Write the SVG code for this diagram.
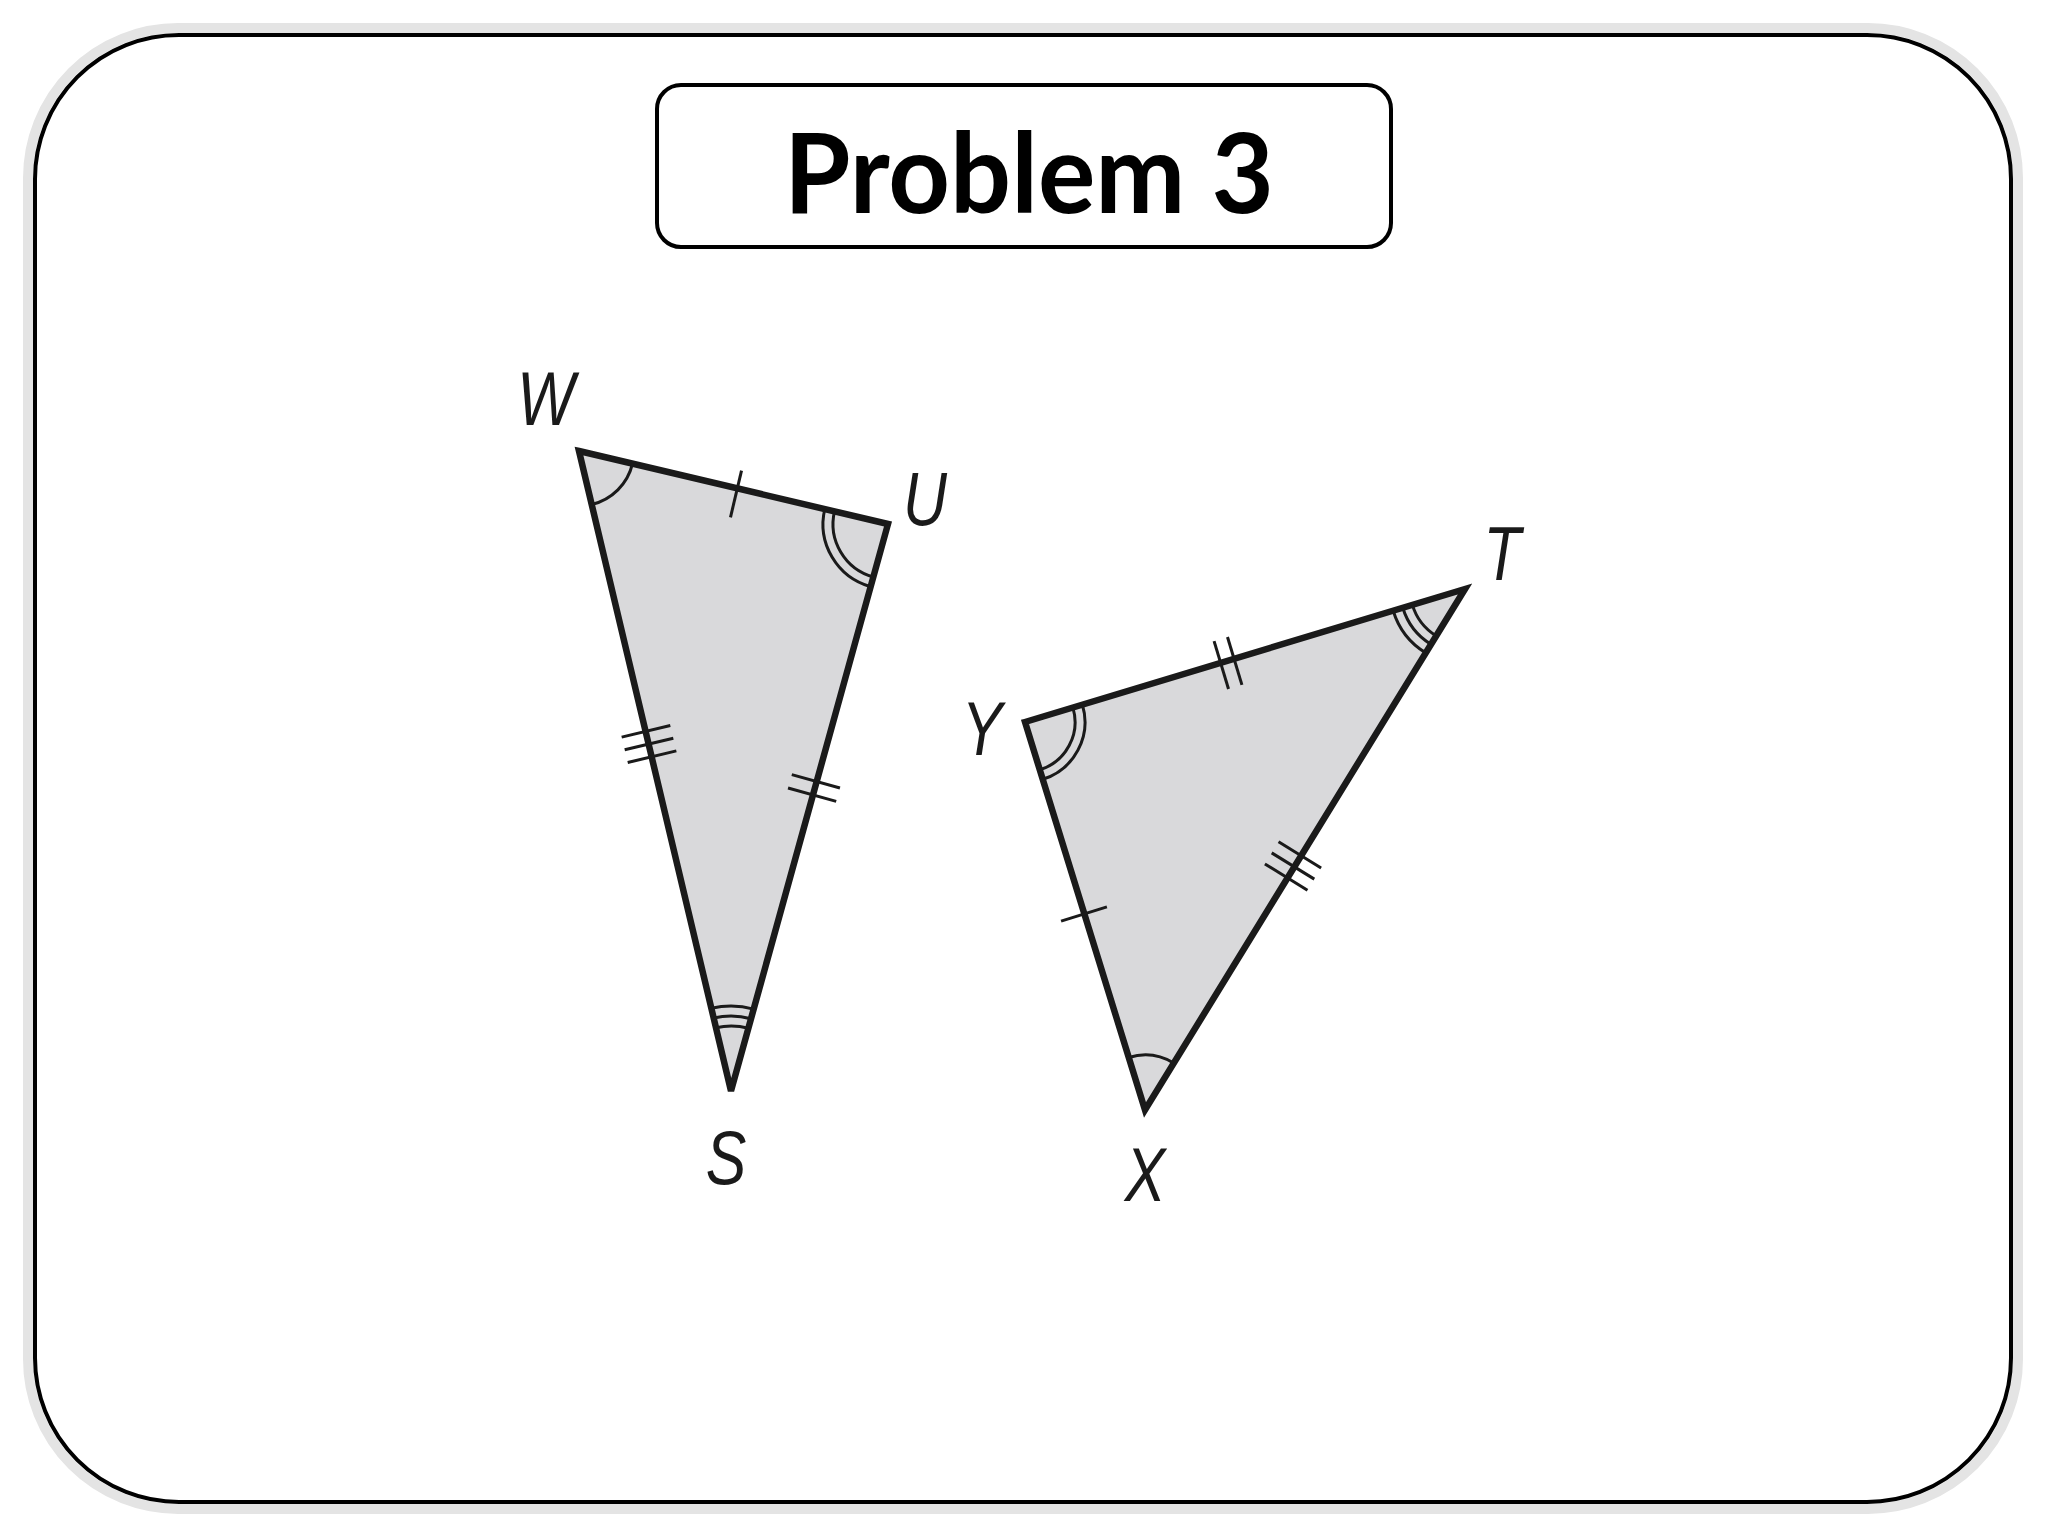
<svg xmlns="http://www.w3.org/2000/svg" width="2048" height="1536" viewBox="0 0 2048 1536">
<style>
.tri{fill:#d9d9db;stroke:#1a1a1a;stroke-width:6.5;stroke-linejoin:miter}
.m{fill:none;stroke:#1a1a1a;stroke-width:3}
.lbl{font-family:"Liberation Sans",Arial,sans-serif;font-style:italic;font-size:76px;fill:#1a1a1a;text-anchor:middle}
</style>
<rect width="2048" height="1536" fill="#fff"/>
<rect x="28" y="28" width="1990" height="1481" rx="150" fill="none" stroke="#e4e4e4" stroke-width="10"/>
<rect x="35" y="35" width="1976" height="1467" rx="144" fill="#fff" stroke="#000" stroke-width="4"/>
<g id="title">
<rect x="657" y="85" width="734" height="162" rx="24" fill="#fff" stroke="#000" stroke-width="4"/>
<text x="1029" y="213" font-family="Lato,'Liberation Sans',sans-serif" font-weight="bold" font-size="111" text-anchor="middle" textLength="490" lengthAdjust="spacingAndGlyphs">Problem 3</text>
</g>
<g id="triangle-WUS">
<polygon class="tri" points="579,451 888,524 731,1091"/>
<path class="m" d="M632.5,463.7 A55,55 0 0 1 591.7,504.5"/>
<path class="m" d="M834.5,511.4 A55,55 0 0 0 873.3,577 M824.8,509 A65,65 0 0 0 870.6,586.7"/>
<path class="m" d="M716,1027.8 A65,65 0 0 1 748.4,1028.3 M713.7,1018 A75,75 0 0 1 751,1018.7 M711.4,1008.3 A85,85 0 0 1 753.7,1009.1"/>
<g transform="translate(736,494) rotate(13.3)"><line class="m" x1="0" y1="-24" x2="0" y2="24"/></g>
<g transform="translate(649,744) rotate(76.6)"><line class="m" x1="-13" y1="-25" x2="-13" y2="25"/><line class="m" x1="0" y1="-25" x2="0" y2="25"/><line class="m" x1="13" y1="-25" x2="13" y2="25"/></g>
<g transform="translate(814,788) rotate(105.5)"><line class="m" x1="-7" y1="-25" x2="-7" y2="25"/><line class="m" x1="7" y1="-25" x2="7" y2="25"/></g>
<text class="lbl" transform="translate(546,425) scale(0.8,1)">W</text>
<text class="lbl" transform="translate(925,525) scale(0.8,1)">U</text>
<text class="lbl" transform="translate(726,1184) scale(0.8,1)">S</text>
</g>
<g id="triangle-YTX">
<polygon class="tri" points="1025,722 1465,589 1145,1110"/>
<path class="m" d="M1072.9,707.6 A50,50 0 0 1 1039.8,769.8 M1082.4,704.7 A60,60 0 0 1 1042.8,779.3"/>
<path class="m" d="M1412.4,604.9 A55,55 0 0 0 1436.2,635.9 M1402.8,607.8 A65,65 0 0 0 1431,644.4 M1393.2,610.7 A75,75 0 0 0 1425.8,652.9"/>
<path class="m" d="M1128.7,1057.5 A55,55 0 0 1 1173.8,1063.1"/>
<g transform="translate(1228,663) rotate(-16.8)"><line class="m" x1="-7" y1="-25" x2="-7" y2="25"/><line class="m" x1="7" y1="-25" x2="7" y2="25"/></g>
<g transform="translate(1084,914) rotate(72.8)"><line class="m" x1="0" y1="-24" x2="0" y2="24"/></g>
<g transform="translate(1293,866) rotate(121.6)"><line class="m" x1="-13" y1="-25" x2="-13" y2="25"/><line class="m" x1="0" y1="-25" x2="0" y2="25"/><line class="m" x1="13" y1="-25" x2="13" y2="25"/></g>
<text class="lbl" transform="translate(1502,580) scale(0.8,1)">T</text>
<text class="lbl" transform="translate(982,755) scale(0.8,1)">Y</text>
<text class="lbl" transform="translate(1145,1201) scale(0.8,1)">X</text>
</g>
</svg>
